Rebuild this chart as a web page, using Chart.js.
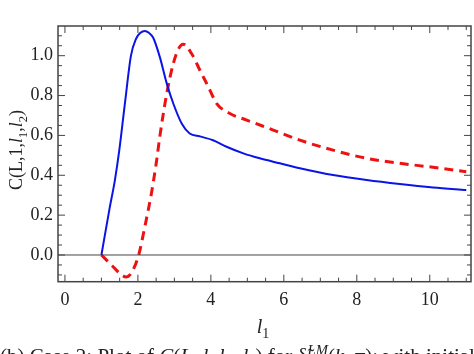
<!DOCTYPE html>
<html>
<head>
<meta charset="utf-8">
<script src="https://cdn.jsdelivr.net/npm/chart.js@4.4.1/dist/chart.umd.min.js"></script>
<style>
  html, body { margin: 0; padding: 0; background: #fff; }
  #wrap { position: relative; width: 474px; height: 354px; overflow: hidden; }
</style>
</head>
<body>
<div id="wrap"><canvas id="chart" width="474" height="354"></canvas></div>
<script>
// Data
const blueX = [1, 1.23, 1.37, 1.49, 1.65, 1.81, 1.95, 2.07, 2.19, 2.3, 2.42, 2.6, 2.79, 2.97, 3.2, 3.42, 3.7, 4.06, 4.43, 4.89, 5.34, 5.89, 6.44, 7.35, 8.27, 9.18, 10.09, 11];
const blueY = [0, 0.24, 0.376, 0.526, 0.77, 1.0, 1.085, 1.115, 1.124, 1.115, 1.09, 0.994, 0.861, 0.76, 0.66, 0.61, 0.595, 0.576, 0.543, 0.51, 0.485, 0.46, 0.435, 0.401, 0.376, 0.356, 0.339, 0.326];

const redX = [1, 1.3, 1.55, 1.68, 1.78, 2.01, 2.19, 2.37, 2.51, 2.6, 2.79, 2.97, 3.1, 3.24, 3.47, 3.7, 3.93, 4.16, 4.52, 4.98, 5.71, 6.44, 7.35, 8.27, 9.18, 10.09, 11];
const redY = [0, -0.055, -0.1, -0.11, -0.1, -0.008, 0.142, 0.309, 0.47, 0.593, 0.81, 0.96, 1.03, 1.058, 1.011, 0.927, 0.844, 0.76, 0.71, 0.677, 0.627, 0.576, 0.526, 0.485, 0.46, 0.44, 0.418];

const xTicks = [0, 2, 4, 6, 8, 10];
const yTicks = [0, 0.2, 0.4, 0.6, 0.8, 1.0];

const serif = "'Liberation Serif', 'DejaVu Serif', serif";
const frameColor = '#444';

function toPoints(xs, ys) {
    return xs.map((x, i) => ({ x: x, y: ys[i] }));
}

// draw a run of text pieces (italic / subscript / superscript)
function richText(ctx, parts, x, y, size, align) {
    const widths = parts.map(p => {
        const s = p.sub || p.sup ? size * 0.7 : size;
        ctx.font = (p.i ? 'italic ' : '') + s + 'px ' + serif;
        return ctx.measureText(p.t).width;
    });
    const total = widths.reduce((a, b) => a + b, 0);
    let cx = align === 'center' ? x - total / 2 : x;
    parts.forEach((p, k) => {
        const s = p.sub || p.sup ? size * 0.7 : size;
        ctx.font = (p.i ? 'italic ' : '') + s + 'px ' + serif;
        let dy = 0;
        if (p.sub) dy = size * 0.25;
        if (p.sup) dy = -size * 0.4;
        ctx.fillText(p.t, cx, y + dy);
        cx += widths[k];
    });
}

// frame, inside ticks, zero line and titles
const framePlugin = {
    id: 'frame',
    afterDatasetsDraw(chart) {
        const { ctx, chartArea: a, scales } = chart;
        const xs = scales.x, ys = scales.y;
        ctx.save();
        ctx.strokeStyle = frameColor;

        // zero line
        ctx.lineWidth = 1;
        const y0 = ys.getPixelForValue(0);
        ctx.beginPath();
        ctx.moveTo(a.left, y0);
        ctx.lineTo(a.right, y0);
        ctx.stroke();

        // ticks inside the frame
        for (let v = 0; v <= 11; v += 0.5) {
            const px = xs.getPixelForValue(v);
            const len = (v % 2 === 0) ? 7 : 4;
            ctx.beginPath();
            ctx.moveTo(px, a.bottom); ctx.lineTo(px, a.bottom - len);
            ctx.moveTo(px, a.top); ctx.lineTo(px, a.top + len);
            ctx.stroke();
        }
        for (let k = -2; k <= 23; k++) {
            const v = k * 0.05;
            if (v < ys.min || v > ys.max) continue;
            const py = ys.getPixelForValue(v);
            const len = (k % 4 === 0) ? 7 : 4;
            ctx.beginPath();
            ctx.moveTo(a.left, py); ctx.lineTo(a.left + len, py);
            ctx.moveTo(a.right, py); ctx.lineTo(a.right - len, py);
            ctx.stroke();
        }

        // frame
        ctx.lineWidth = 1.5;
        ctx.strokeRect(a.left, a.top, a.right - a.left, a.bottom - a.top);

        // titles
        ctx.fillStyle = '#222';
        ctx.textBaseline = 'alphabetic';
        ctx.textAlign = 'left';
        richText(ctx, [{ t: 'l', i: true }, { t: '1', sub: true }], 263, 333, 20, 'center');

        ctx.translate(17, 150);
        ctx.rotate(-Math.PI / 2);
        richText(ctx, [
            { t: 'C(L,1,' }, { t: 'l', i: true }, { t: '1', sub: true }, { t: ',' },
            { t: 'l', i: true }, { t: '2', sub: true }, { t: ')' }
        ], 0, 5, 18, 'center');
        ctx.setTransform(1, 0, 0, 1, 0, 0);

        // caption (cut off at the bottom edge)
        richText(ctx, [
            { t: '(b) Case 2: Plot of ' }, { t: 'C', i: true }, { t: '(' }, { t: 'L', i: true },
            { t: ', ' }, { t: 'l', i: true }, { t: ', ' }, { t: 'l', i: true }, { t: '1', sub: true },
            { t: ', ' }, { t: 'l', i: true }, { t: '2', sub: true }, { t: ') for ' },
            { t: 'δ̃' }, { t: 'LM', i: true, sup: true }, { t: '(' }, { t: 'k', i: true },
            { t: ', π): with initial' }
        ], 0, 363, 21, 'left');
        ctx.restore();
    }
};

new Chart(document.getElementById('chart'), {
    type: 'line',
    data: {
        datasets: [{
            data: toPoints(blueX, blueY),
            borderColor: '#0a14e6',
            borderWidth: 2,
            pointRadius: 0,
            cubicInterpolationMode: 'monotone',
            fill: false
        }, {
            data: toPoints(redX, redY),
            borderColor: '#ee1111',
            borderWidth: 3,
            borderDash: [9, 6],
            pointRadius: 0,
            cubicInterpolationMode: 'monotone',
            fill: false
        }]
    },
    options: {
        responsive: false,
        animation: false,
        layout: { padding: { top: 26, right: 3, left: 0, bottom: 0 } },
        plugins: { legend: { display: false }, tooltip: { enabled: false } },
        scales: {
            x: {
                type: 'linear',
                min: -0.19,
                max: 11.13,
                grid: { display: false, drawTicks: false },
                border: { display: false },
                afterFit: s => { s.height = 72.3; },
                afterBuildTicks: s => { s.ticks = xTicks.map(v => ({ value: v })); },
                ticks: {
                    padding: 8,
                    color: '#222',
                    font: { family: serif, size: 18 },
                    callback: v => String(v)
                }
            },
            y: {
                min: -0.134,
                max: 1.149,
                grid: { display: false, drawTicks: false },
                border: { display: false },
                afterFit: s => { s.width = 58; },
                afterBuildTicks: s => { s.ticks = yTicks.map(v => ({ value: v })); },
                ticks: {
                    padding: 5,
                    color: '#222',
                    font: { family: serif, size: 18 },
                    callback: v => v.toFixed(1)
                }
            }
        }
    },
    plugins: [framePlugin]
});
</script>
</body>
</html>
